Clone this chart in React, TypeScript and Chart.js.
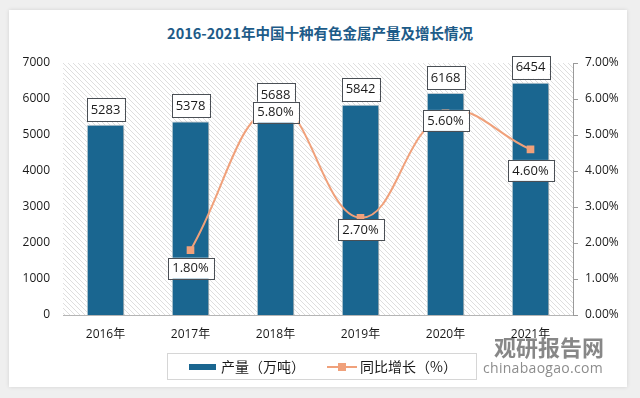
import React, { useEffect, useRef } from "react";
import { Chart, registerables } from "chart.js";

Chart.register(...registerables);

const categories = ["2016年", "2017年", "2018年", "2019年", "2020年", "2021年"];
const production = [5283, 5378, 5688, 5842, 6168, 6454];
const growth: (number | null)[] = [null, 1.8, 5.8, 2.7, 5.6, 4.6];
const leftTicks = [0, 1000, 2000, 3000, 4000, 5000, 6000, 7000];
const rightTicks = [0, 1, 2, 3, 4, 5, 6, 7];

const BAR_COLOR = "#1a6690";
const LINE_COLOR = "#f0a17b";
const FONT = "'Open Sans', 'Noto Sans CJK SC', sans-serif";

export default function App() {
  const ref = useRef<HTMLCanvasElement | null>(null);

  useEffect(() => {
    document.body.style.margin = "0";
    const canvas = ref.current;
    if (!canvas) return;

    const hatchPlugin = {
      id: "hatch",
      beforeDraw(chart: any) {
        const { ctx, chartArea: a } = chart;
        const p = document.createElement("canvas");
        p.width = 5;
        p.height = 5;
        const pc = p.getContext("2d")!;
        pc.fillStyle = "#ffffff";
        pc.fillRect(0, 0, 5, 5);
        pc.strokeStyle = "#dedede";
        pc.lineWidth = 1;
        pc.beginPath();
        pc.moveTo(-1, -1);
        pc.lineTo(6, 6);
        pc.moveTo(-1, 4);
        pc.lineTo(1, 6);
        pc.moveTo(4, -1);
        pc.lineTo(6, 1);
        pc.stroke();
        const pat = ctx.createPattern(p, "repeat");
        ctx.save();
        ctx.fillStyle = pat;
        ctx.fillRect(a.left, a.top, a.right - a.left, a.bottom - a.top);
        ctx.restore();
      },
    };

    const shadowPlugin = {
      id: "barShadow",
      beforeDatasetDraw(chart: any, args: any) {
        if (args.index !== 0) return;
        const ctx = chart.ctx;
        ctx.save();
        ctx.shadowColor = "rgba(0,0,0,0.28)";
        ctx.shadowBlur = 4;
        ctx.shadowOffsetX = 2;
        ctx.shadowOffsetY = 1;
      },
      afterDatasetDraw(chart: any, args: any) {
        if (args.index !== 0) return;
        chart.ctx.restore();
      },
    };

    const box = (ctx: CanvasRenderingContext2D, cx: number, cy: number, w: number, h: number, text: string) => {
      ctx.fillStyle = "#ffffff";
      ctx.fillRect(cx - w / 2, cy - h / 2, w, h);
      ctx.strokeStyle = "#4a4f55";
      ctx.lineWidth = 1;
      ctx.strokeRect(Math.round(cx - w / 2) + 0.5, Math.round(cy - h / 2) + 0.5, Math.round(w), Math.round(h));
      ctx.fillStyle = "#1a1a1a";
      ctx.textAlign = "center";
      ctx.textBaseline = "middle";
      ctx.fillText(text, cx, cy + 0.5);
    };

    const lineLabelOffsets = [0, 18, 6, 12, 7, 21];

    const labelPlugin = {
      id: "labels",
      afterDatasetsDraw(chart: any) {
        const ctx = chart.ctx;
        ctx.save();
        ctx.font = `13px ${FONT}`;
        const barMeta = chart.getDatasetMeta(0);
        barMeta.data.forEach((el: any, i: number) => {
          const w = Math.max(el.width, ctx.measureText(String(production[i])).width + 8);
          box(ctx, el.x, el.y - 4 - 11.5, w, 23, String(production[i]));
        });
        const lineMeta = chart.getDatasetMeta(1);
        lineMeta.data.forEach((el: any, i: number) => {
          const v = growth[i];
          if (v == null) return;
          box(ctx, el.x, el.y + lineLabelOffsets[i], 46, 21, v.toFixed(2) + "%");
        });
        ctx.restore();
      },
    };

    const chart = new Chart(canvas, {
      type: "bar",
      data: {
        labels: categories,
        datasets: [
          {
            type: "bar",
            label: "产量（万吨）",
            data: production,
            backgroundColor: BAR_COLOR,
            borderColor: "#c9d7df",
            borderWidth: 1,
            categoryPercentage: 1,
            barPercentage: 0.44,
            yAxisID: "y",
            order: 2,
          },
          {
            type: "line",
            label: "同比增长（%）",
            data: growth,
            borderColor: LINE_COLOR,
            backgroundColor: LINE_COLOR,
            borderWidth: 2,
            tension: 0.42,
            pointStyle: "rect",
            pointRadius: 4,
            pointBackgroundColor: LINE_COLOR,
            pointBorderColor: LINE_COLOR,
            yAxisID: "y1",
            order: 1,
          } as any,
        ],
      },
      options: {
        animation: false,
        responsive: false,
        devicePixelRatio: 1,
        layout: { padding: { top: 63, left: 0, right: 0, bottom: 0 } },
        plugins: {
          legend: { display: false },
          title: { display: false },
          tooltip: { enabled: false },
        },
        scales: {
          x: {
            grid: { display: false, drawTicks: false },
            border: { display: true, color: "#b5b5b5", width: 1 },
            ticks: { color: "#1a1a1a", font: { size: 12, family: FONT }, padding: 12 },
            afterFit(scale: any) {
              scale.height = 83;
            },
          },
          y: {
            position: "left",
            min: 0,
            max: 7000,
            afterBuildTicks(scale: any) {
              scale.ticks = leftTicks.map((v) => ({ value: v }));
            },
            grid: { display: false, drawTicks: false },
            border: { display: false },
            ticks: {
              color: "#1a1a1a",
              font: { size: 12, family: FONT },
              padding: 13,
              callback: (v: any) => String(v),
            },
            afterFit(scale: any) {
              scale.width = 63;
            },
          },
          y1: {
            position: "right",
            min: 0,
            max: 7,
            afterBuildTicks(scale: any) {
              scale.ticks = rightTicks.map((v) => ({ value: v }));
            },
            grid: { display: true, drawOnChartArea: false, drawTicks: true, tickLength: 5, color: "#9a9a9a" },
            border: { display: true, color: "#9a9a9a", width: 1 },
            ticks: {
              color: "#1a1a1a",
              font: { size: 12, family: FONT },
              padding: 7,
              callback: (v: any) => Number(v).toFixed(2) + "%",
            },
            afterFit(scale: any) {
              scale.width = 67;
            },
          },
        },
      },
      plugins: [hatchPlugin, shadowPlugin, labelPlugin],
    });

    return () => chart.destroy();
  }, []);

  return (
    <div style={{ position: "fixed", left: 0, top: 0, width: 640, height: 398, background: "#efefef", overflow: "hidden" }}>
      <div
        style={{
          position: "absolute",
          left: 9,
          top: 10,
          width: 618,
          height: 377,
          background: "#ffffff",
          boxShadow: "0 0 4px rgba(0,0,0,0.12)",
        }}
      />
      <div
        style={{
          position: "absolute",
          left: 0,
          top: 22,
          width: 640,
          textAlign: "center",
          fontFamily: "'Noto Sans CJK SC', sans-serif",
          fontWeight: 700,
          fontSize: 14.5,
          color: "#1d5b88",
          lineHeight: "22px",
        }}
      >
        2016-2021年中国十种有色金属产量及增长情况
      </div>
      <canvas ref={ref} width={640} height={398} style={{ position: "absolute", left: 0, top: 0, width: 640, height: 398 }} />
      <div
        style={{
          position: "absolute",
          left: 167,
          top: 353,
          width: 308,
          height: 25,
          border: "1px solid #d6d6d6",
          background: "#ffffff",
          fontFamily: "'Noto Sans CJK SC', sans-serif",
          fontSize: 14,
          color: "#1a1a1a",
        }}
      >
        <div style={{ position: "absolute", left: 21, top: 10, width: 27, height: 6, background: BAR_COLOR }} />
        <div style={{ position: "absolute", left: 53, top: 0, lineHeight: "25px", whiteSpace: "nowrap" }}>产量（万吨）</div>
        <div style={{ position: "absolute", left: 159, top: 12, width: 30, height: 2, background: LINE_COLOR }} />
        <div style={{ position: "absolute", left: 170, top: 9, width: 8, height: 8, background: LINE_COLOR }} />
        <div style={{ position: "absolute", left: 192, top: 0, lineHeight: "25px", whiteSpace: "nowrap" }}>同比增长（%）</div>
      </div>
      <div
        style={{
          position: "absolute",
          left: 494,
          top: 332,
          fontFamily: "'Noto Sans CJK SC', sans-serif",
          fontWeight: 700,
          fontSize: 22,
          color: "rgba(105,105,105,0.8)",
          whiteSpace: "nowrap",
          lineHeight: "28px",
        }}
      >
        观研报告网
      </div>
      <div
        style={{
          position: "absolute",
          left: 483,
          top: 359,
          fontFamily: "'Open Sans', sans-serif",
          fontSize: 14,
          color: "rgba(120,120,120,0.85)",
          whiteSpace: "nowrap",
          lineHeight: "18px",
          letterSpacing: 0.3,
        }}
      >
        chinabaogao.com
      </div>
    </div>
  );
}
